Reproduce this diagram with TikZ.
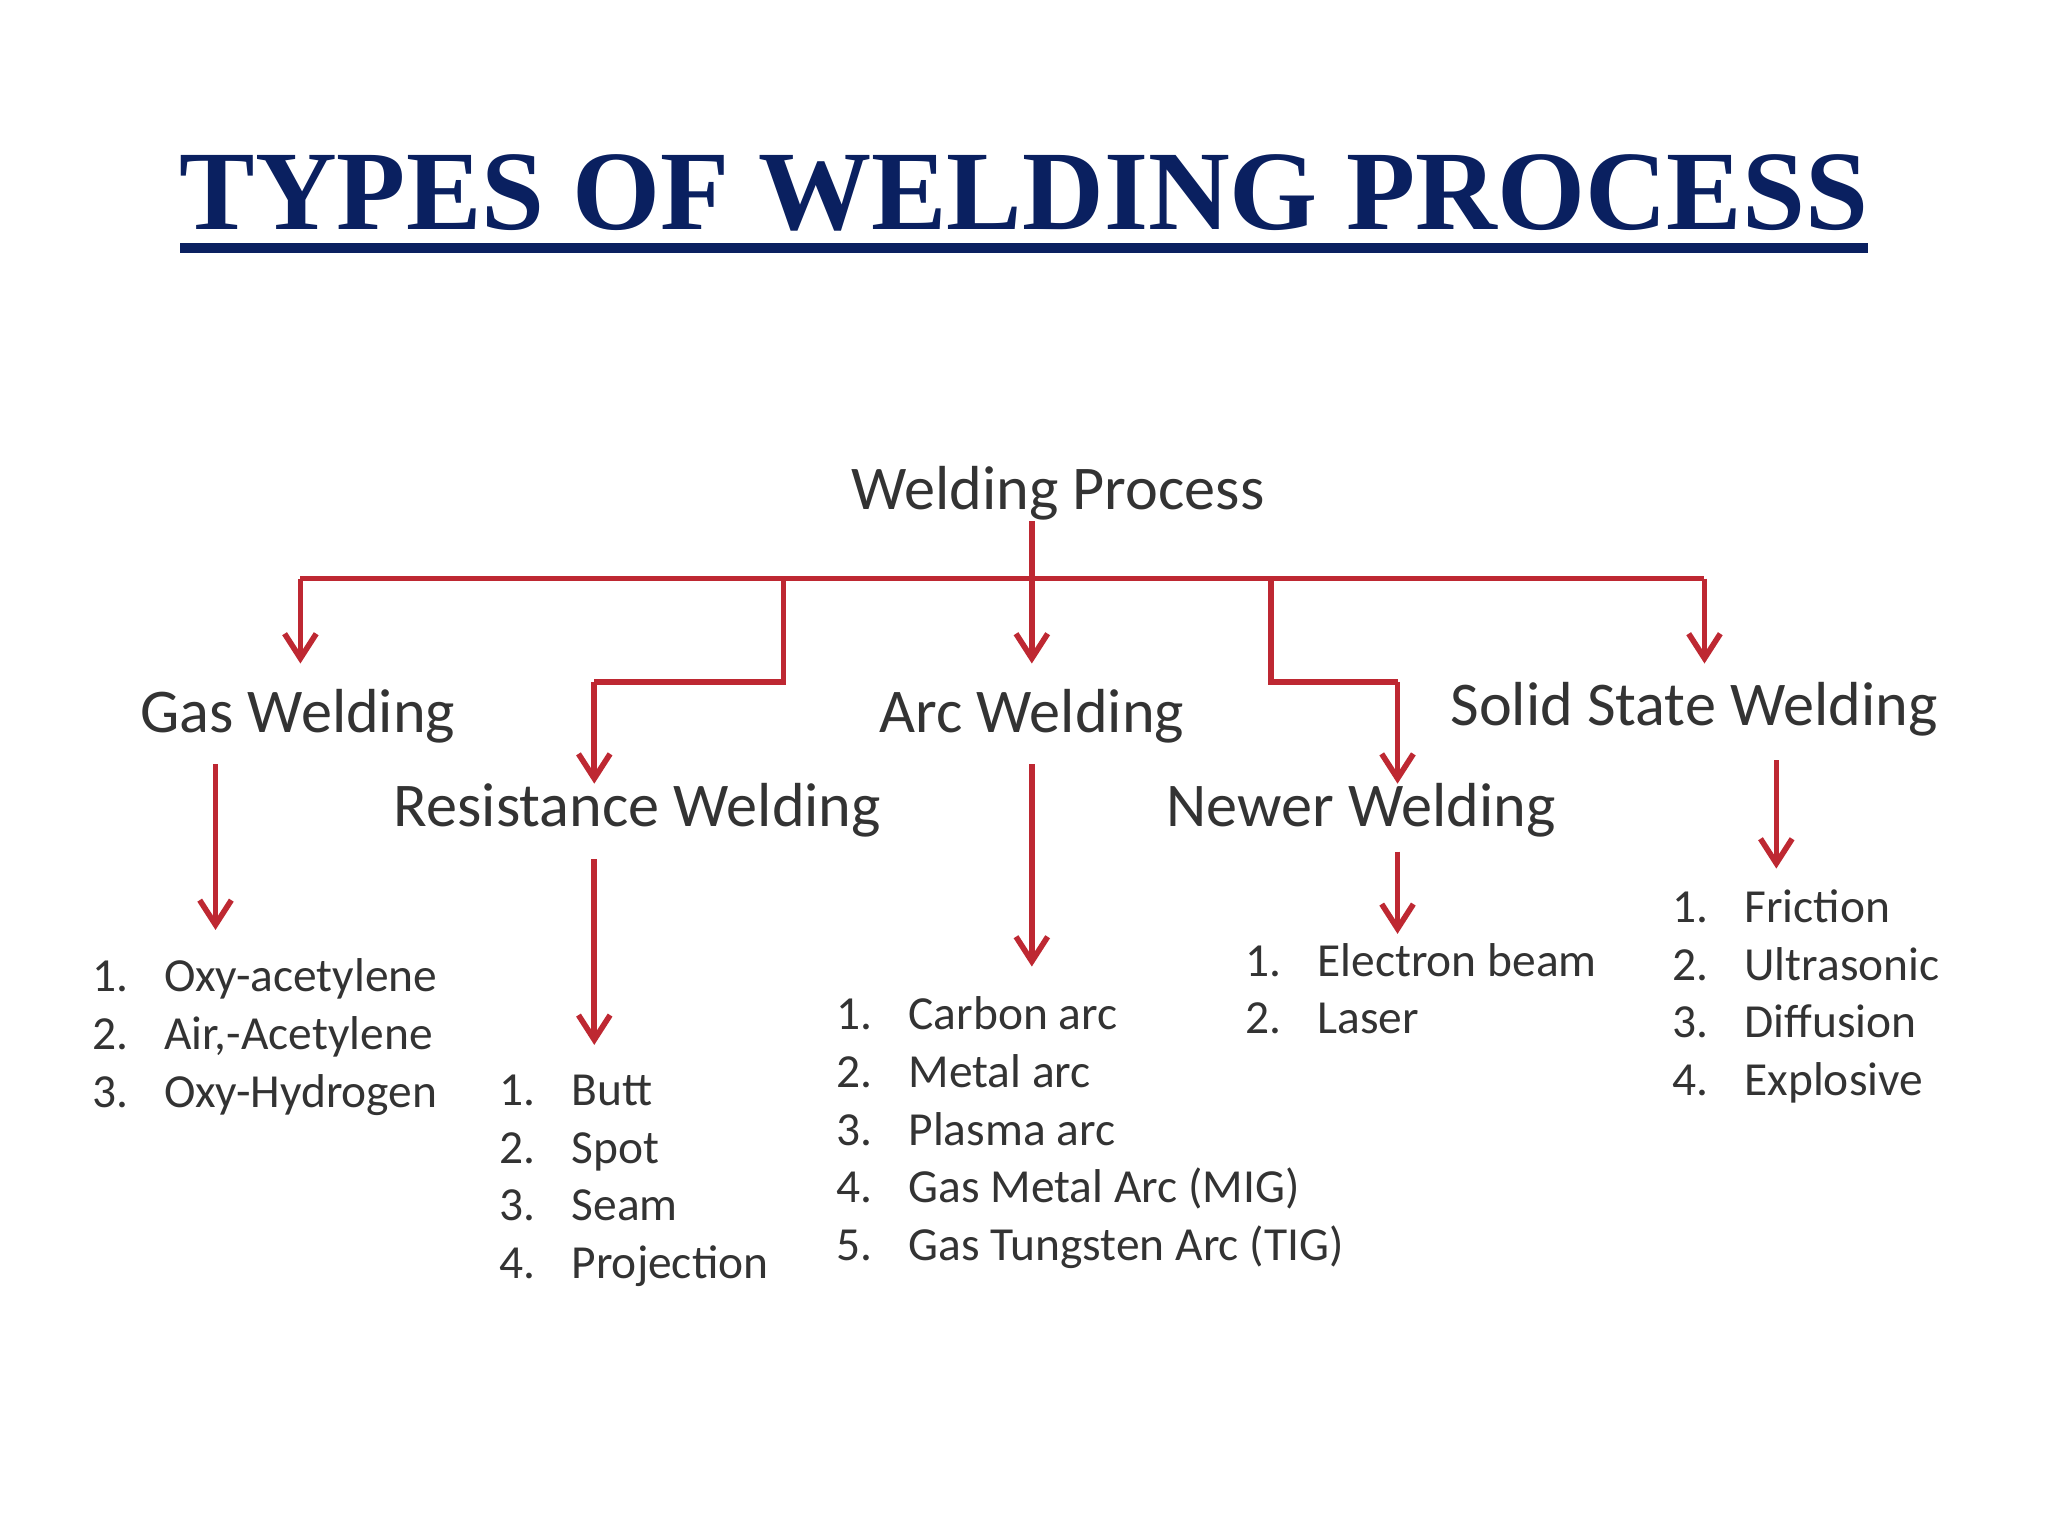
\documentclass[tikz,border=0pt]{standalone}
\usepackage{fontspec}
\setmainfont{Carlito}
\newfontfamily\titlefont{Liberation Serif}
\usetikzlibrary{arrows.meta}
\definecolor{navy}{RGB}{10,32,96}
\definecolor{wred}{RGB}{190,40,50}
\begin{document}
\begin{tikzpicture}[x=0.01306cm, y=-0.01306cm,
  conn/.style={wred, line width=1.6pt},
  arr/.style={conn, -{Straight Barb[length=7pt,width=9pt]}},
  head/.style={font=\fontsize{17.7}{21}\selectfont, text=black!80, inner sep=0pt},
  lst/.style={anchor=north west, inner sep=0pt, text=black!80,
    font=\fontsize{13.5}{16.4}\selectfont}]
\useasboundingbox (0,0) rectangle (1568,1176);
\fill[white] (0,0) rectangle (1568,1176);
% title
\node[inner sep=0pt, text=navy, font=\titlefont\bfseries\fontsize{32.2}{36}\selectfont] (title) at (784,148) {TYPES OF WELDING PROCESS};
\draw[navy, line width=3pt] (138,190) -- (1430,190);
% headings
\node[head] (wp) at (810,378) {Welding Process};
\node[head] (gas) at (228,548) {Gas Welding};
\node[head] (res) at (488,620) {Resistance Welding};
\node[head] (arc) at (790,548) {Arc Welding};
\node[head] (new) at (1042,620) {Newer Welding};
\node[head] (sol) at (1297,543) {Solid State Welding};
% junctions
\coordinate (jl) at (230,443);
\coordinate (jr) at (1305,443);
\coordinate (jc) at (790,443);
\coordinate (ra) at (600,443);
\coordinate (rb) at (600,522);
\coordinate (rc) at (455,522);
\coordinate (na) at (973,443);
\coordinate (nb) at (973,522);
\coordinate (nc) at (1070,522);
\draw[conn] (jl) -- (jr);
\draw[arr] (wp.south -| jc) -- (790,508);
\draw[arr] (jl) -- (230,508);
\draw[arr] (jr) -- (1305,508);
\draw[conn] (ra) -- (rb) -- (rc);
\draw[arr] (rc) -- (455,600);
\draw[conn] (na) -- (nb) -- (nc);
\draw[arr] (nc) -- (1070,600);
% lists
\node[lst] (lg) at (70,728) {\begin{tabular}{@{}p{0.72cm}@{}l@{}}1.&Oxy-acetylene\\2.&Air,-Acetylene\\3.&Oxy-Hydrogen\end{tabular}};
\node[lst] (lr) at (382,815) {\begin{tabular}{@{}p{0.72cm}@{}l@{}}1.&Butt\\2.&Spot\\3.&Seam\\4.&Projection\end{tabular}};
\node[lst] (la) at (640,757) {\begin{tabular}{@{}p{0.72cm}@{}l@{}}1.&Carbon arc\\2.&Metal arc\\3.&Plasma arc\\4.&Gas Metal Arc (MIG)\\5.&Gas Tungsten Arc (TIG)\end{tabular}};
\node[lst] (ln) at (953,716) {\begin{tabular}{@{}p{0.72cm}@{}l@{}}1.&Electron beam\\2.&Laser\end{tabular}};
\node[lst] (ls) at (1280,675) {\begin{tabular}{@{}p{0.72cm}@{}l@{}}1.&Friction\\2.&Ultrasonic\\3.&Diffusion\\4.&Explosive\end{tabular}};
% down arrows
\draw[arr] (165,585) -- (165,712);
\draw[arr] (455,658) -- (455,800);
\draw[arr] (790,585) -- (790,740);
\draw[arr] (1070,652) -- (1070,715);
\draw[arr] (1360,582) -- (1360,665);
\end{tikzpicture}
\end{document}
